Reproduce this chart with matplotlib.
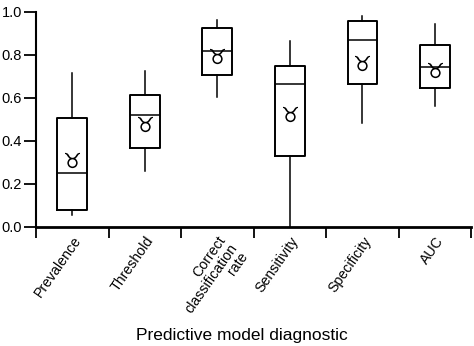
import matplotlib
matplotlib.use("Agg")
import matplotlib.pyplot as plt
from matplotlib.transforms import offset_copy

plt.rcParams['font.family'] = ['Liberation Sans', 'DejaVu Sans']

diagnostics = ["Prevalence", "Threshold", "Correct\nclassification\nrate",
               "Sensitivity", "Specificity", "AUC"]
whisker_low = [0.056, 0.262, 0.602, 0.0, 0.482, 0.562]
q1 = [0.079, 0.368, 0.706, 0.331, 0.663, 0.644]
medians = [0.252, 0.519, 0.816, 0.664, 0.869, 0.745]
q3 = [0.508, 0.615, 0.924, 0.746, 0.958, 0.847]
whisker_high = [0.714, 0.723, 0.964, 0.865, 0.980, 0.943]
means = [0.302, 0.469, 0.783, 0.512, 0.751, 0.721]

stats = []
for i, name in enumerate(diagnostics):
    stats.append(dict(label=name, whislo=whisker_low[i], q1=q1[i], med=medians[i],
                      q3=q3[i], whishi=whisker_high[i], fliers=[]))

fig = plt.figure(figsize=(4.74, 3.46), dpi=100)
ax = fig.add_axes([0.076, 0.344, 0.918, 0.622])

pos = list(range(len(diagnostics)))
ax.bxp(stats, positions=pos, widths=0.41, showcaps=False, showfliers=False,
       boxprops=dict(color='black', linewidth=1.4),
       whiskerprops=dict(color='black', linewidth=1.1),
       medianprops=dict(color='black', linewidth=1.1))

# mean marker (taurus glyph, circle part sits on the mean)
shifted = offset_copy(ax.transData, fig=fig, x=0, y=2.3, units='dots')
ax.plot(pos, means, linestyle='none', marker='$\u2649$', markersize=11,
        markeredgewidth=0, color='black', transform=shifted, zorder=5)

ax.set_xlim(-0.5, len(diagnostics) - 0.5)
ax.set_ylim(0, 1.0)
ax.set_yticks([0.0, 0.2, 0.4, 0.6, 0.8, 1.0])
ax.set_yticklabels(["0.0", "0.2", "0.4", "0.6", "0.8", "1.0"], fontsize=10.5)

# ticks on category boundaries, labels at category centres
ax.set_xticks([p - 0.5 for p in pos] + [len(pos) - 0.5])
ax.set_xticklabels([])
ax.set_xticks(pos, minor=True)
ax.set_xticklabels(diagnostics, minor=True, rotation=55, ha='right',
                   va='top', rotation_mode='anchor', multialignment='right',
                   linespacing=0.95, fontsize=10.2)
ax.tick_params(axis='x', which='minor', length=0, pad=5)
ax.tick_params(axis='x', which='major', length=8, width=1.3)
ax.tick_params(axis='y', length=9, width=1.3, pad=1)

for s in ['top', 'right']:
    ax.spines[s].set_visible(False)
ax.spines['bottom'].set_linewidth(2)
ax.spines['left'].set_linewidth(1.5)

ax.set_xlabel("Predictive model diagnostic", fontsize=12.5)
ax.xaxis.set_label_coords(0.472, -0.47)

fig.savefig("out.png", dpi=100)
